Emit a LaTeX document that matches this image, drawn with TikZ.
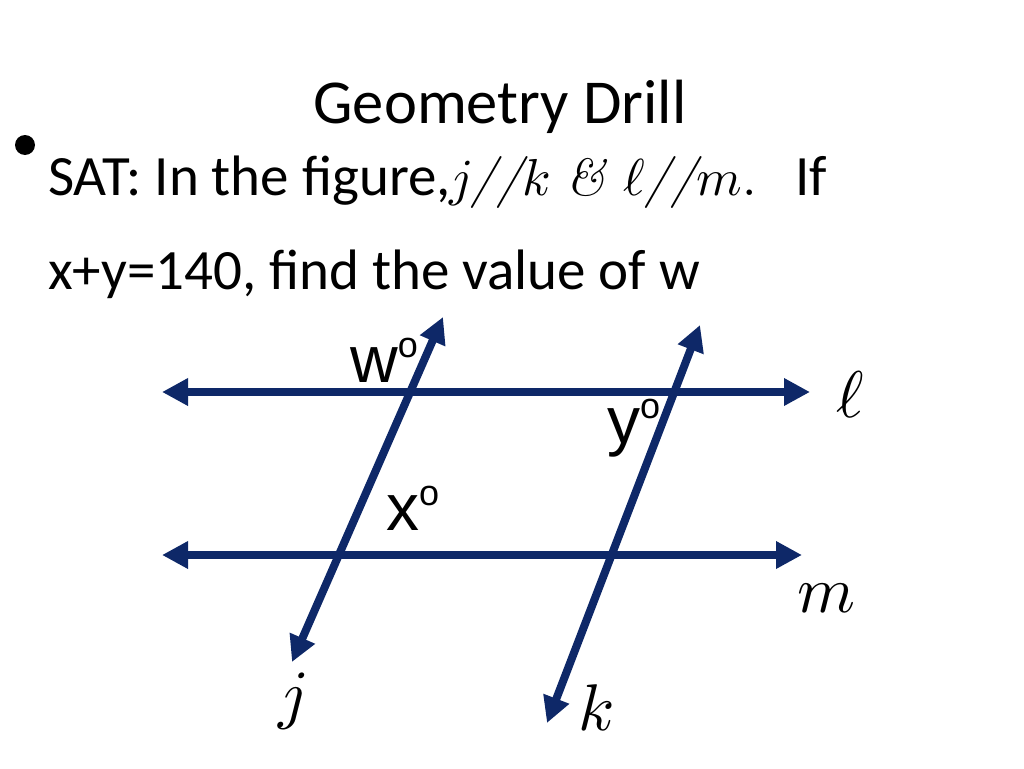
\documentclass[tikz,border=0pt]{standalone}
\usepackage{fontspec}
\setmainfont{Carlito}
\newfontfamily\lblfont{Liberation Sans}
\newfontfamily\lmr{Latin Modern Roman}
\newfontfamily\lmm{Latin Modern Math}
\usetikzlibrary{arrows.meta}
\definecolor{navy}{RGB}{14,40,104}
\newcommand{\degmark}{\raisebox{25pt}{\fontsize{36}{36}\selectfont o}}
\begin{document}
\begin{tikzpicture}[x=1pt,y=-1pt,
  txt/.style={inner sep=0pt,anchor=base west},
  body/.style={txt,font=\fontsize{57}{62}\selectfont},
  lbl/.style={txt,font=\lblfont\fontsize{66}{70}\selectfont},
  scr/.style={txt,font=\lmm\fontsize{52}{60}\selectfont},
  bigscr/.style={txt,font=\lmm\fontsize{66}{72}\selectfont},
  gline/.style={line width=8pt,draw=navy,
    {Triangle[length=26pt,width=26pt]}-{Triangle[length=26pt,width=26pt]}}]
\useasboundingbox (0,0) rectangle (1024,768);
% title and text
\node[inner sep=0pt,anchor=base,font=\fontsize{62.5}{70}\selectfont] (title) at (500,123) {Geometry Drill};
\fill (25,145) circle (10pt);
\node[body] (t1) at (48,195) {SAT: In the figure,};
\node[scr] (t1s) at (449,195) {𝑗{\lmr\itshape//}𝑘 {\lmr\itshape\&} ℓ{\lmr\itshape//}𝑚.};
\node[body] (t1b) at (795,195) {If};
\node[body] (t2) at (48,289) {x+y=140, find the value of w};
% lines
\coordinate (lL) at (162,392); \coordinate (lR) at (810,392);
\coordinate (mL) at (162,555); \coordinate (mR) at (802,555);
\coordinate (jB) at (292,662); \coordinate (jT) at (443,317);
\coordinate (kB) at (547,723); \coordinate (kT) at (700,325);
\draw[gline] (lL) -- (lR);
\draw[gline] (mL) -- (mR);
\draw[gline] (jB) -- (jT);
\draw[gline] (kB) -- (kT);
% angle labels
\node[lbl] (w) at (350,382) {w\degmark};
\node[lbl] (x) at (386,530) {x\degmark};
\node[lbl] (y) at (607,443) {y\degmark};
% line names
\node[bigscr] (nl) at (836,417) {ℓ};
\node[bigscr] (nm) at (797,612) {𝑚};
\node[bigscr] (nj) at (278,716) {𝑗};
\node[bigscr] (nk) at (578,730) {𝑘};
\end{tikzpicture}
\end{document}
